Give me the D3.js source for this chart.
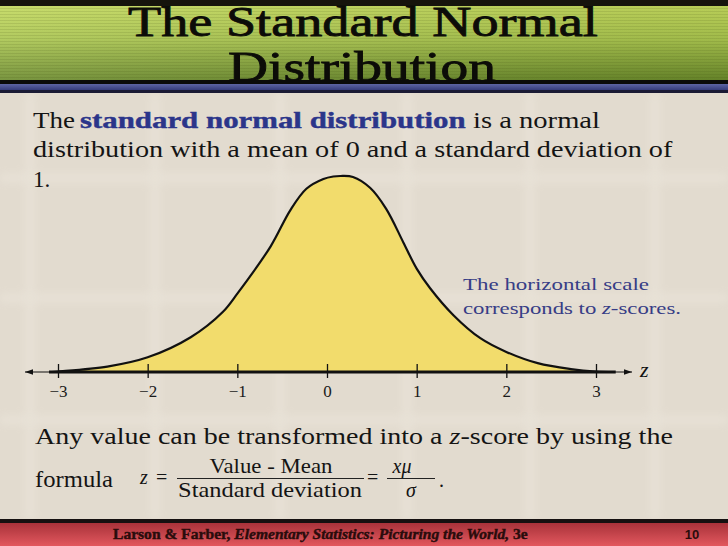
<!DOCTYPE html>
<html>
<head>
<meta charset="utf-8">
<script src="https://cdn.jsdelivr.net/npm/d3@7"></script>
<style>
html,body{margin:0;padding:0;background:#e2dbcf;}
svg{display:block;}
</style>
</head>
<body>
<svg id="chart" width="728" height="546"></svg>
<script>
// ---- data ----
const zTicks = [-3, -2, -1, 0, 1, 2, 3];
const tickLabels = ["\u22123", "\u22122", "\u22121", "0", "1", "2", "3"];
const curveZ = [-3.07, -3.0, -2.45, -2.0, -1.52, -1.16, -1.0, -0.63, -0.41, -0.23, -0.04, 0.07, 0.15, 0.29, 0.48, 0.66, 0.85, 1.0, 1.15, 1.41, 1.71, 2.0, 2.35, 2.72, 3.0, 3.2];
const curveDensity = [0, 0.001, 0.011, 0.030, 0.071, 0.123, 0.160, 0.256, 0.330, 0.374, 0.394, 0.399, 0.400, 0.398, 0.376, 0.333, 0.265, 0.211, 0.171, 0.116, 0.069, 0.041, 0.018, 0.006, 0.001, 0];
const titleLines = ["The Standard Normal", "Distribution"];
const footerText = ["Larson & Farber, ", "Elementary Statistics: Picturing the World,", " 3e"];
const pageNumber = "10";

const svg = d3.select("#chart");
const W = 728, H = 546;
const defs = svg.append("defs");
const SERIF = "Liberation Serif";

// gradients
const gGreen = defs.append("linearGradient").attr("id", "gGreen").attr("x1", 0).attr("y1", 0).attr("x2", 0).attr("y2", 1);
gGreen.append("stop").attr("offset", "0%").attr("stop-color", "#c2d85c");
gGreen.append("stop").attr("offset", "45%").attr("stop-color", "#a9c44e");
gGreen.append("stop").attr("offset", "100%").attr("stop-color", "#6a892b");
const gGreenH = defs.append("linearGradient").attr("id", "gGreenH").attr("x1", 0).attr("y1", 0).attr("x2", 1).attr("y2", 0);
gGreenH.append("stop").attr("offset", "0%").attr("stop-color", "#ffffff").attr("stop-opacity", 0.10);
gGreenH.append("stop").attr("offset", "100%").attr("stop-color", "#000000").attr("stop-opacity", 0.05);
const gBlue = defs.append("linearGradient").attr("id", "gBlue").attr("x1", 0).attr("y1", 0).attr("x2", 0).attr("y2", 1);
gBlue.append("stop").attr("offset", "0%").attr("stop-color", "#5d64a4");
gBlue.append("stop").attr("offset", "100%").attr("stop-color", "#363c7c");
const gRed = defs.append("linearGradient").attr("id", "gRed").attr("x1", 0).attr("y1", 0).attr("x2", 0).attr("y2", 1);
gRed.append("stop").attr("offset", "0%").attr("stop-color", "#a8323a");
gRed.append("stop").attr("offset", "100%").attr("stop-color", "#e2585e");
const blur = defs.append("filter").attr("id", "soft").attr("x", "-50%").attr("y", "-50%").attr("width", "200%").attr("height", "200%");
blur.append("feGaussianBlur").attr("stdDeviation", 4);

// background
svg.append("rect").attr("width", W).attr("height", H).attr("fill", "#e2dbcf");
const bands = svg.append("g").attr("filter", "url(#soft)").attr("opacity", 0.35);
[30, 155, 280, 407, 530, 655].forEach(x => bands.append("rect").attr("x", x - 4).attr("y", 93).attr("width", 8).attr("height", 426).attr("fill", "#f4efe6"));
[178, 298, 420].forEach(y => bands.append("rect").attr("x", 0).attr("y", y - 4).attr("width", W).attr("height", 8).attr("fill", "#f4efe6"));

// title bar
svg.append("rect").attr("x", 0).attr("y", 0).attr("width", W).attr("height", 84).attr("fill", "#16140c");
svg.append("rect").attr("x", 0).attr("y", 6).attr("width", W).attr("height", 74).attr("fill", "url(#gGreen)");
svg.append("rect").attr("x", 0).attr("y", 6).attr("width", W).attr("height", 74).attr("fill", "url(#gGreenH)");
const stripes = svg.append("g").attr("opacity", 0.12);
for (let yy = 8; yy < 80; yy += 3) stripes.append("rect").attr("x", 0).attr("y", yy).attr("width", W).attr("height", 1).attr("fill", "#3d4a10");

// helper: fit a text element to a given width (scales horizontally)
function fit(sel, x, y, width) {
  const w = sel.node().getBBox().width;
  const s = width / w;
  sel.attr("x", 0).attr("y", 0).attr("transform", `translate(${x},${y}) scale(${s},1)`);
  return sel;
}

const titleG = svg.append("g");
const t1 = titleG.append("text").attr("text-anchor", "middle").attr("font-family", SERIF).attr("font-size", 42)
  .attr("fill", "#0c0c08").attr("stroke", "#0c0c08").attr("stroke-width", 0.8).text(titleLines[0]);
fit(t1, 363, 36, 470);
const t2 = titleG.append("text").attr("text-anchor", "middle").attr("font-family", SERIF).attr("font-size", 42)
  .attr("fill", "#0c0c08").attr("stroke", "#0c0c08").attr("stroke-width", 0.8).text(titleLines[1]);
fit(t2, 362, 81, 268);

svg.append("rect").attr("x", 0).attr("y", 80).attr("width", W).attr("height", 4).attr("fill", "#0a0a0a");
svg.append("rect").attr("x", 0).attr("y", 84).attr("width", W).attr("height", 6).attr("fill", "url(#gBlue)");
svg.append("rect").attr("x", 0).attr("y", 90).attr("width", W).attr("height", 3).attr("fill", "#1a1a34");

// body text
const BS = 23;
const tx1 = svg.append("text").attr("font-family", SERIF).attr("font-size", BS).attr("fill", "#141414").text("The");
fit(tx1, 33, 128, 42);
const tx2 = svg.append("text").attr("font-family", SERIF).attr("font-weight", "bold").attr("font-size", BS).attr("fill", "#2b358a")
  .attr("stroke", "#2b358a").attr("stroke-width", 0.4).text("standard normal distribution");
fit(tx2, 80, 128, 386);
const tx3 = svg.append("text").attr("font-family", SERIF).attr("font-size", BS).attr("fill", "#141414").text("is a normal");
fit(tx3, 473, 128, 127);
const tx4 = svg.append("text").attr("font-family", SERIF).attr("font-size", BS).attr("fill", "#141414").text("distribution with a mean of 0 and a standard deviation of");
fit(tx4, 33, 157, 640);
svg.append("text").attr("x", 33).attr("y", 187).attr("font-family", SERIF).attr("font-size", BS).attr("fill", "#141414").text("1.");

// chart
const axisY = 372;
const x = d3.scaleLinear().domain([-3, 3]).range([58, 596]);
const y = d3.scaleLinear().domain([0, 0.4]).range([axisY, 176]);
const pts = curveZ.map((z, i) => [z, curveDensity[i]]);
const cv = d3.curveCatmullRom.alpha(0.5);
const area = d3.area().x(d => x(d[0])).y0(axisY).y1(d => y(d[1])).curve(cv);
const line = d3.line().x(d => x(d[0])).y(d => y(d[1])).curve(cv);
svg.append("path").datum(pts).attr("d", area).attr("fill", "#f2dc6c");
svg.append("path").datum(pts).attr("d", line).attr("fill", "none").attr("stroke", "#111").attr("stroke-width", 2.2).attr("stroke-linejoin", "round");

// axis with arrows
defs.append("marker").attr("id", "arr").attr("viewBox", "0 0 10 10").attr("refX", 10).attr("refY", 5)
  .attr("markerWidth", 8).attr("markerHeight", 8).attr("markerUnits", "userSpaceOnUse").attr("orient", "auto-start-reverse")
  .append("path").attr("d", "M0,1.5 L10,5 L0,8.5 Z").attr("fill", "#111");
svg.append("line").attr("x1", 25).attr("x2", 632).attr("y1", axisY).attr("y2", axisY)
  .attr("stroke", "#111").attr("stroke-width", 1.2).attr("marker-start", "url(#arr)").attr("marker-end", "url(#arr)");
svg.append("line").attr("x1", x(-3.1)).attr("x2", x(3.22)).attr("y1", axisY).attr("y2", axisY).attr("stroke", "#111").attr("stroke-width", 3);

const xAxis = d3.axisBottom(x).tickValues(zTicks).tickSize(0).tickFormat((d, i) => tickLabels[i]);
const ag = svg.append("g").attr("transform", `translate(0,${axisY})`).call(xAxis);
ag.select(".domain").remove();
ag.selectAll(".tick line").remove();
ag.selectAll(".tick").append("line").attr("y1", -8).attr("y2", 6).attr("stroke", "#111").attr("stroke-width", 1.3);
ag.selectAll(".tick text").attr("y", 25).attr("dy", 0).attr("font-family", SERIF).attr("font-size", 17).attr("fill", "#1a1a1a");

svg.append("text").attr("x", 640).attr("y", 377).attr("font-family", SERIF).attr("font-style", "italic").attr("font-size", 22).attr("fill", "#111").text("z");

// annotation
const an1 = svg.append("text").attr("font-family", SERIF).attr("font-size", 17).attr("fill", "#373d86").text("The horizontal scale");
fit(an1, 463, 290, 186);
const an2 = svg.append("text").attr("font-family", SERIF).attr("font-size", 17).attr("fill", "#373d86");
an2.append("tspan").text("corresponds to ");
an2.append("tspan").attr("font-style", "italic").text("z");
an2.append("tspan").text("-scores.");
fit(an2, 463, 314, 218);

// lower text
const lw1 = svg.append("text").attr("font-family", SERIF).attr("font-size", BS).attr("fill", "#141414");
lw1.append("tspan").text("Any value can be transformed into a ");
lw1.append("tspan").attr("font-style", "italic").text("z");
lw1.append("tspan").text("-score by using the");
fit(lw1, 35, 444, 638);
const lw2 = svg.append("text").attr("font-family", SERIF).attr("font-size", BS).attr("fill", "#141414").text("formula");
fit(lw2, 35, 487, 78);

// formula
svg.append("text").attr("x", 140).attr("y", 484).attr("font-family", SERIF).attr("font-style", "italic").attr("font-size", 20).attr("fill", "#141414").text("z");
svg.append("text").attr("x", 156).attr("y", 484).attr("font-family", SERIF).attr("font-size", 20).attr("fill", "#141414").text("=");
const vm = svg.append("text").attr("text-anchor", "middle").attr("font-family", SERIF).attr("font-size", 20).attr("fill", "#141414").text("Value - Mean");
fit(vm, 271, 473, 123);
svg.append("line").attr("x1", 177).attr("x2", 364).attr("y1", 478.5).attr("y2", 478.5).attr("stroke", "#222").attr("stroke-width", 1.1);
const sd = svg.append("text").attr("text-anchor", "middle").attr("font-family", SERIF).attr("font-size", 20).attr("fill", "#141414").text("Standard deviation");
fit(sd, 270, 497, 184);
svg.append("text").attr("x", 367).attr("y", 484).attr("font-family", SERIF).attr("font-size", 20).attr("fill", "#141414").text("=");
svg.append("text").attr("x", 402).attr("y", 473).attr("text-anchor", "middle").attr("font-family", SERIF).attr("font-style", "italic").attr("font-size", 20).attr("fill", "#141414").text("x\u03bc");
svg.append("line").attr("x1", 387).attr("x2", 435).attr("y1", 478.5).attr("y2", 478.5).attr("stroke", "#222").attr("stroke-width", 1.1);
svg.append("text").attr("x", 411).attr("y", 497).attr("text-anchor", "middle").attr("font-family", SERIF).attr("font-style", "italic").attr("font-size", 20).attr("fill", "#141414").text("\u03c3");
svg.append("text").attr("x", 439).attr("y", 487).attr("font-family", SERIF).attr("font-size", 20).attr("fill", "#141414").text(".");

// footer
svg.append("rect").attr("x", 0).attr("y", 519).attr("width", W).attr("height", 4).attr("fill", "#151010");
svg.append("rect").attr("x", 0).attr("y", 523).attr("width", W).attr("height", 23).attr("fill", "url(#gRed)");
const ft = svg.append("text").attr("font-family", SERIF).attr("font-weight", "bold").attr("font-size", 14).attr("fill", "#2a0c0c")
  .attr("stroke", "#2a0c0c").attr("stroke-width", 0.4);
ft.append("tspan").text(footerText[0]);
ft.append("tspan").attr("font-style", "italic").text(footerText[1]);
ft.append("tspan").text(footerText[2]);
fit(ft, 113, 539, 415);
svg.append("text").attr("x", 692).attr("y", 539).attr("text-anchor", "middle").attr("font-family", "Liberation Sans").attr("font-weight", "bold").attr("font-size", 13).attr("fill", "#2a0c0c").text(pageNumber);
</script>
</body>
</html>
